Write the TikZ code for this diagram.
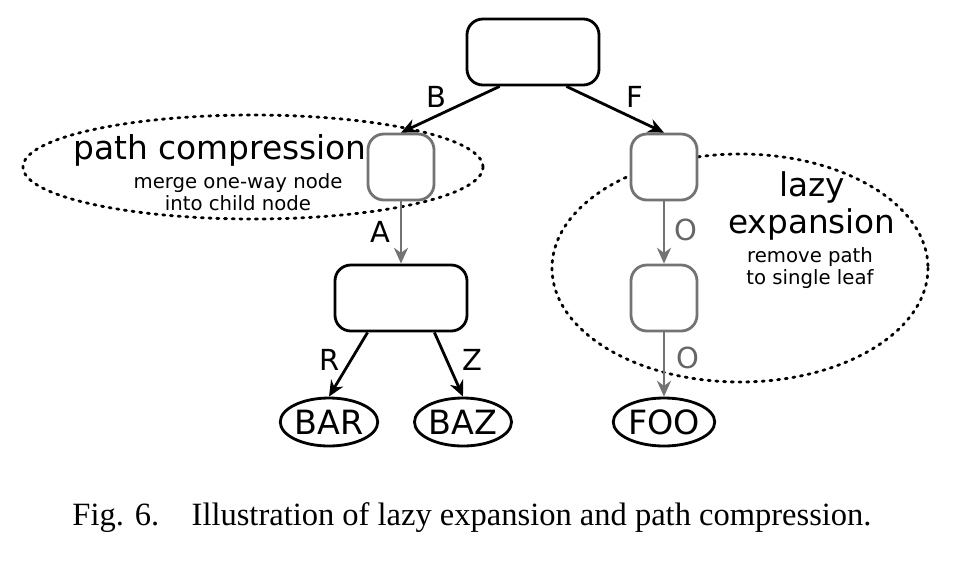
\documentclass[tikz,border=0pt]{standalone}
\usepackage{fontspec}
\setmainfont{DejaVu Sans}
\newfontfamily\capfont{Liberation Serif}
\usetikzlibrary{arrows.meta,shapes.geometric}
\begin{document}
\begin{tikzpicture}[x=0.2mm,y=-0.2mm,
 box/.style={draw,line width=1.6pt,rounded corners=9pt,minimum width=26.4mm,minimum height=13.2mm,fill=white},
 sbox/.style={box,minimum width=13.2mm,draw=black!55},
 leaf/.style={draw,ellipse,line width=1.6pt,minimum width=16mm,minimum height=9.6mm,inner sep=0pt,font=\fontsize{19}{19}\selectfont},
 edge/.style={line width=1.6pt,-{Stealth[length=9pt,width=8pt]}},
 gedge/.style={edge,draw=black!55},
 lab/.style={font=\fontsize{16.5}{16.5}\selectfont},
 dots/.style={line width=1.6pt,dash pattern=on 1.2pt off 3.2pt,line cap=round}]
\useasboundingbox (0,0) rectangle (962,566);
\draw[dots] (253,167) ellipse [x radius=230,y radius=52];
\draw[dots] (740,268) ellipse [x radius=188,y radius=114];
\node[box] (root) at (533,52) {};
\node[sbox] (b) at (401,167) {};
\node[box] (a) at (401,298) {};
\node[sbox] (f) at (664,167) {};
\node[sbox] (o) at (664,298) {};
\node[leaf] (bar) at (329,422) {BAR};
\node[leaf] (baz) at (463,422) {BAZ};
\node[leaf] (foo) at (664,422) {FOO};
\draw[edge] (root.south west)++(34,0) coordinate (r1) (r1) -- (b.north);
\draw[edge] (root.south east)++(-34,0) coordinate (r2) (r2) -- (f.north);
\draw[gedge] (b) -- (a);
\draw[gedge] (f) -- (o);
\draw[gedge] (o) -- (foo);
\draw[edge] (a.south west)++(34,0) coordinate (a1) (a1) -- (bar.north);
\draw[edge] (a.south east)++(-34,0) coordinate (a2) (a2) -- (baz.north);
\node[lab] at (436,97) {B};
\node[lab] at (635,97) {F};
\node[lab] at (380,232) {A};
\node[lab,text=black!60] at (686,230) {O};
\node[lab,text=black!60] at (688,358) {O};
\node[lab] at (330,360) {R};
\node[lab] at (472,360) {Z};
\node[font=\fontsize{18.7}{18.7}\selectfont] at (220,150) {path compression};
\node[font=\fontsize{11.2}{11.2}\selectfont,align=center] at (238,192) {merge one-way node\\[1pt]into child node};
\node[font=\fontsize{18.6}{18.6}\selectfont,align=center] at (812,206) {lazy\\[2pt]expansion};
\node[font=\fontsize{11.2}{11.2}\selectfont,align=center] at (810,268) {remove path\\[1pt]to single leaf};
\node[font=\capfont\fontsize{18.5}{18.5}\selectfont] at (472,518) {Fig. 6.\quad Illustration of lazy expansion and path compression.};
\end{tikzpicture}
\end{document}
